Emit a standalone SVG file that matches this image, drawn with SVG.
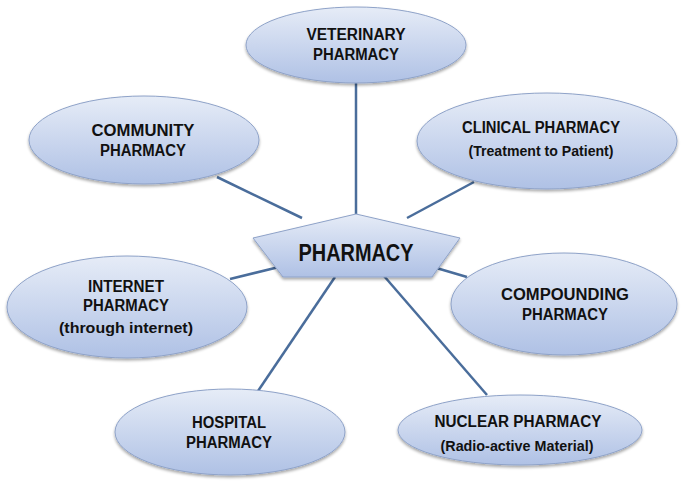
<svg xmlns="http://www.w3.org/2000/svg" width="685" height="482" viewBox="0 0 685 482">
<defs>
<linearGradient id="g" x1="0" y1="0" x2="0" y2="1">
<stop offset="0" stop-color="#e6ecf7"/>
<stop offset="1" stop-color="#afc1e5"/>
</linearGradient>
<filter id="sh" x="-10%" y="-10%" width="120%" height="130%">
<feGaussianBlur in="SourceAlpha" stdDeviation="1.5"/>
<feOffset dx="0" dy="2" result="b"/>
<feComponentTransfer><feFuncA type="linear" slope="0.35"/></feComponentTransfer>
<feMerge><feMergeNode/><feMergeNode in="SourceGraphic"/></feMerge>
</filter>
</defs>
<style>
.n{fill:url(#g);stroke:#8ea2c8;stroke-width:1;filter:url(#sh)}
.t{font-family:"Liberation Sans",Arial,sans-serif;font-weight:bold;font-size:16px;fill:#111;text-anchor:middle}
.s{font-size:15px}
.c{font-size:23px}
.e{stroke:#4a6d9b;stroke-width:2.5;fill:none}
</style>
<rect width="685" height="482" fill="#fff"/>
<g id="connectors">
<line class="e" x1="356" y1="83" x2="356" y2="214"/>
<line class="e" x1="217" y1="177" x2="302" y2="218"/>
<line class="e" x1="474" y1="182" x2="407" y2="218"/>
<line class="e" x1="230" y1="279" x2="279" y2="267"/>
<line class="e" x1="433" y1="267" x2="467" y2="277"/>
<line class="e" x1="335" y1="277" x2="258" y2="391"/>
<line class="e" x1="384" y1="276" x2="487" y2="395"/>
</g>
<g id="veterinary">
<ellipse class="n" cx="356" cy="45" rx="110" ry="38"/>
<text class="t" x="356" y="40" textLength="99" lengthAdjust="spacingAndGlyphs">VETERINARY</text>
<text class="t" x="356" y="60" textLength="86" lengthAdjust="spacingAndGlyphs">PHARMACY</text>
</g>
<g id="community">
<ellipse class="n" cx="144" cy="140" rx="115" ry="44"/>
<text class="t" x="143" y="136" textLength="103" lengthAdjust="spacingAndGlyphs">COMMUNITY</text>
<text class="t" x="143" y="156" textLength="86" lengthAdjust="spacingAndGlyphs">PHARMACY</text>
</g>
<g id="clinical">
<ellipse class="n" cx="547" cy="141" rx="130" ry="48"/>
<text class="t" x="541" y="133" textLength="158" lengthAdjust="spacingAndGlyphs">CLINICAL PHARMACY</text>
<text class="t s" x="541" y="156" textLength="145" lengthAdjust="spacingAndGlyphs">(Treatment to Patient)</text>
</g>
<g id="internet">
<ellipse class="n" cx="127" cy="307" rx="120" ry="51"/>
<text class="t" x="126" y="292" textLength="76" lengthAdjust="spacingAndGlyphs">INTERNET</text>
<text class="t" x="126" y="311" textLength="86" lengthAdjust="spacingAndGlyphs">PHARMACY</text>
<text class="t s" x="126" y="333" textLength="134" lengthAdjust="spacingAndGlyphs">(through internet)</text>
</g>
<g id="compounding">
<ellipse class="n" cx="564" cy="304" rx="113" ry="51"/>
<text class="t" x="565" y="300" textLength="128" lengthAdjust="spacingAndGlyphs">COMPOUNDING</text>
<text class="t" x="565" y="320" textLength="86" lengthAdjust="spacingAndGlyphs">PHARMACY</text>
</g>
<g id="hospital">
<ellipse class="n" cx="230" cy="432" rx="115" ry="43"/>
<text class="t" x="229" y="428" textLength="74" lengthAdjust="spacingAndGlyphs">HOSPITAL</text>
<text class="t" x="229" y="448" textLength="86" lengthAdjust="spacingAndGlyphs">PHARMACY</text>
</g>
<g id="nuclear">
<ellipse class="n" cx="520" cy="430" rx="122" ry="35"/>
<text class="t" x="518" y="427" textLength="167" lengthAdjust="spacingAndGlyphs">NUCLEAR PHARMACY</text>
<text class="t s" x="517" y="451" textLength="153" lengthAdjust="spacingAndGlyphs">(Radio-active Material)</text>
</g>
<g id="pharmacy">
<polygon class="n" points="356,214 460,238 432,277 283,277 253,238"/>
<text class="t c" x="356" y="261" textLength="115" lengthAdjust="spacingAndGlyphs">PHARMACY</text>
</g>
</svg>
